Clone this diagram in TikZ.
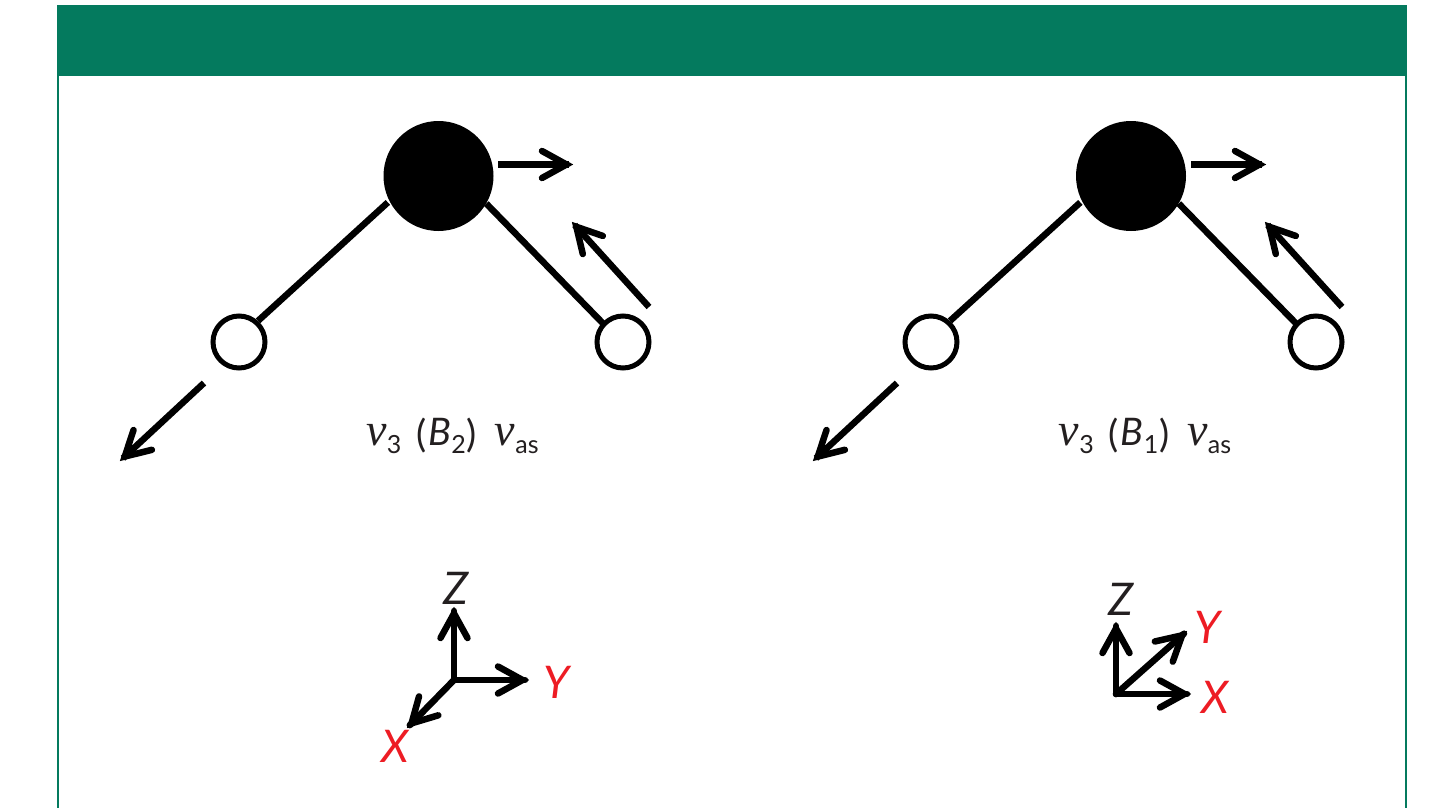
\documentclass[tikz,border=0pt]{standalone}
\usepackage{fontspec}
\setmainfont{Lato}
\newfontfamily\nufont{Liberation Serif}
\usetikzlibrary{arrows.meta}
\definecolor{hdr}{HTML}{047A5E}
\definecolor{axred}{HTML}{ED1C24}
\definecolor{ink}{HTML}{231F20}
\pgfdeclarearrow{
  name=VBarb,
  parameters={\the\pgflinewidth},
  setup code={
    \pgfarrowssettipend{0pt}
    \pgfarrowssetlineend{-4pt}
    \pgfarrowssetbackend{-32pt}
    \pgfarrowssetvisualbackend{-4pt}
    \pgfarrowssavethe\pgflinewidth
  },
  drawing code={
    \pgfsetdash{}{0pt}
    \pgfsetroundcap
    \pgfsetmiterjoin
    \pgfpathmoveto{\pgfpoint{-31pt}{13.5pt}}
    \pgfpathlineto{\pgfpoint{-6.5pt}{0pt}}
    \pgfpathlineto{\pgfpoint{-31pt}{-13.5pt}}
    \pgfusepathqstroke
  }
}
\tikzset{
 bond/.style={line width=6.5pt},
 big/.style={circle,fill=black,draw=none,inner sep=0pt,minimum size=110pt},
 small/.style={circle,fill=white,draw=black,line width=5pt,inner sep=0pt,minimum size=52pt},
 arr/.style={line width=6.5pt,-{VBarb}},
 axred/.style={font=\fontsize{45}{45}\selectfont\itshape,text=axred,inner sep=0pt},
 axblk/.style={font=\fontsize{45}{45}\selectfont\itshape,text=ink,inner sep=0pt},
 lbl/.style={font=\fontsize{32}{32}\selectfont,text=ink,inner sep=0pt},
}
\newcommand{\bignu}{{\fontsize{46}{46}\nufont\itshape ν}}
\newcommand{\lowsub}[1]{\raisebox{-8pt}{\fontsize{25}{25}\selectfont #1}}
\newcommand{\bigparen}[1]{\raisebox{-2pt}{\fontsize{38}{38}\selectfont #1}}
\newcommand{\bigB}{{\fontsize{38}{38}\selectfont\itshape B}}
\newcommand{\modelabel}[1]{\bignu\lowsub{3}\hspace{15pt}\bigparen{(}\kern2pt\bigB\lowsub{#1}\kern1pt\bigparen{)}\hspace{18pt}\bignu\lowsub{as}}
\begin{document}
\begin{tikzpicture}[x=1pt,y=-1pt]
\useasboundingbox (0,0) rectangle (1438,808);
\fill[hdr] (57,5) rectangle (1407,76);
\draw[hdr,line width=2.5pt] (58.2,76) -- (58.2,808) (1405.8,76) -- (1405.8,808);
% left molecule
\node[big] (a) at (438.5,176) {};
\node[small] (al) at (239,342) {};
\node[small] (ar) at (623,342) {};
\draw[bond,shorten <=2pt] (a.207) -- (al.48);
\draw[bond,shorten >=-3pt] (a.330) -- (ar.137);
\coordinate (a1s) at (498,164.5); \coordinate (a1e) at (573,164.5);
\coordinate (a2s) at (649,307); \coordinate (a2e) at (572,222);
\coordinate (a3s) at (204,383); \coordinate (a3e) at (120,461);
\draw[arr] (a1s) -- (a1e);
\draw[arr] (a2s) -- (a2e);
\draw[arr] (a3s) -- (a3e);
\node[lbl,anchor=base] (alab) at (452.5,445) {\modelabel{2}};
% right molecule
\node[big] (b) at (1131,176) {};
\node[small] (bl) at (931,342) {};
\node[small] (br) at (1316,342) {};
\draw[bond,shorten <=2pt] (b.207) -- (bl.48);
\draw[bond,shorten >=-3pt] (b.330) -- (br.137);
\coordinate (b1s) at (1191,164.5); \coordinate (b1e) at (1266,164.5);
\coordinate (b2s) at (1342,307); \coordinate (b2e) at (1265,222);
\coordinate (b3s) at (897,383); \coordinate (b3e) at (813,461);
\draw[arr] (b1s) -- (b1e);
\draw[arr] (b2s) -- (b2e);
\draw[arr] (b3s) -- (b3e);
\node[lbl,anchor=base] (blab) at (1145,445) {\modelabel{1}};
% left axes
\coordinate (o1) at (454,680);
\coordinate (o1z) at (454,607); \coordinate (o1y) at (529,680); \coordinate (o1x) at (407,728);
\draw[arr,line cap=round] (o1) -- (o1z);
\draw[arr,line cap=round] (o1) -- (o1y);
\draw[arr,line cap=round] (o1) -- (o1x);
\node[axblk] (z1) at (456,588) {Z};
\node[axred] (y1) at (557,682.5) {Y};
\node[axred] (x1) at (395,746) {X};
% right axes
\coordinate (o2) at (1116,694);
\coordinate (o2z) at (1116,622); \coordinate (o2y) at (1187,631); \coordinate (o2x) at (1191,694);
\draw[arr,line cap=round] (o2) -- (o2z);
\draw[arr,line cap=round] (o2) -- (o2y);
\draw[arr,line cap=round] (o2) -- (o2x);
\node[axblk] (z2) at (1121,599.5) {Z};
\node[axred] (y2) at (1208,627) {Y};
\node[axred] (x2) at (1215,697) {X};
\end{tikzpicture}
\end{document}
